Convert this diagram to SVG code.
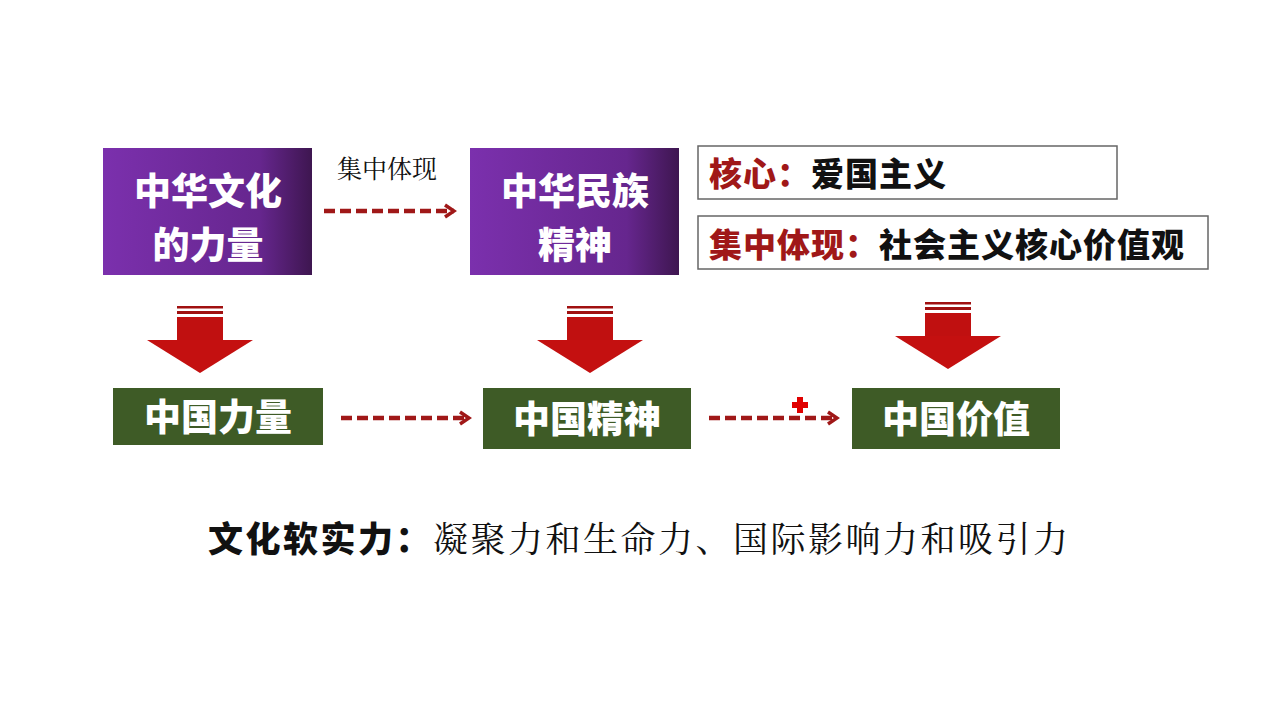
<svg xmlns="http://www.w3.org/2000/svg" width="1280" height="720" viewBox="0 0 1280 720">
<defs>
<linearGradient id="pg" x1="0" y1="0" x2="1" y2="0"><stop offset="0" stop-color="#7b30ad"/><stop offset="0.75" stop-color="#66268e"/><stop offset="1" stop-color="#3e1650"/></linearGradient>
<marker id="ah" markerWidth="14" markerHeight="16" refX="11" refY="8" orient="auto" markerUnits="userSpaceOnUse"><path d="M2,2 L11,8 L2,14" fill="none" stroke="#a01818" stroke-width="3.5"/></marker>
<g id="down"><rect x="-23" y="0" width="46" height="2.5" fill="#a01010"/><rect x="-23" y="5" width="46" height="3" fill="#a01010"/><rect x="-23" y="11" width="46" height="23" fill="#c01010"/><path d="M-53,34 L53,34 L0,67 Z" fill="#c41010"/></g>
</defs>
<style>
.w{font-family:"Noto Sans CJK SC",sans-serif;font-weight:900;fill:#fff;text-anchor:middle}
.g{fill:#3e5b26}
.tb{fill:#fff;stroke:#666;stroke-width:1.5}
.r{fill:#a01818}
.k{fill:#111}
.d{stroke:#a01818;stroke-width:4.5;stroke-dasharray:11 5;fill:none}
</style>
<rect width="1280" height="720" fill="#fff"/>
<g id="n1"><rect x="103" y="148" width="209" height="127" fill="url(#pg)"/><text class="w" x="208" y="205" font-size="37">中华文化</text><text class="w" x="208" y="259" font-size="37">的力量</text></g>
<g id="n2"><rect x="470" y="148" width="209" height="127" fill="url(#pg)"/><text class="w" x="575" y="205" font-size="37">中华民族</text><text class="w" x="575" y="259" font-size="37">精神</text></g>
<g id="n3"><rect class="tb" x="698" y="146" width="419" height="53"/><text x="709" y="186" font-size="33" font-family="Noto Sans CJK SC,sans-serif" font-weight="900" letter-spacing="1"><tspan class="r">核心：</tspan><tspan class="k">爱国主义</tspan></text></g>
<g id="n4"><rect class="tb" x="698" y="216" width="510" height="53"/><text x="709" y="257" font-size="33" font-family="Noto Sans CJK SC,sans-serif" font-weight="900" letter-spacing="1"><tspan class="r">集中体现：</tspan><tspan class="k">社会主义核心价值观</tspan></text></g>
<g id="n5"><rect class="g" x="113" y="388" width="210" height="57"/><text class="w" x="218" y="431" font-size="37">中国力量</text></g>
<g id="n6"><rect class="g" x="483" y="388" width="208" height="61"/><text class="w" x="587" y="433" font-size="37">中国精神</text></g>
<g id="n7"><rect class="g" x="852" y="388" width="208" height="61"/><text class="w" x="956" y="433" font-size="37">中国价值</text></g>
<g id="connectors">
<path class="d" d="M324,211 H454" marker-end="url(#ah)"/>
<text x="387" y="178" font-size="25" font-family="Noto Serif CJK SC,Noto Sans CJK SC,serif" text-anchor="middle" fill="#111">集中体现</text>
<path class="d" d="M341,418 H469" marker-end="url(#ah)"/>
<path class="d" d="M709,418 H837" marker-end="url(#ah)"/>
<use href="#down" x="200" y="306"/>
<use href="#down" x="590" y="306"/>
<use href="#down" x="948" y="302"/>
</g>
<path d="M797,397 h6 v5 h5 v6 h-5 v5 h-6 v-5 h-5 v-6 h5 z" fill="#e00000"/>
<text x="208" y="552" font-size="35" font-family="Noto Sans CJK SC,sans-serif" fill="#111" letter-spacing="2.5"><tspan font-weight="900">文化软实力：</tspan><tspan font-family="Noto Serif CJK SC,Noto Sans CJK SC,serif">凝聚力和生命力、国际影响力和吸引力</tspan></text>
</svg>
